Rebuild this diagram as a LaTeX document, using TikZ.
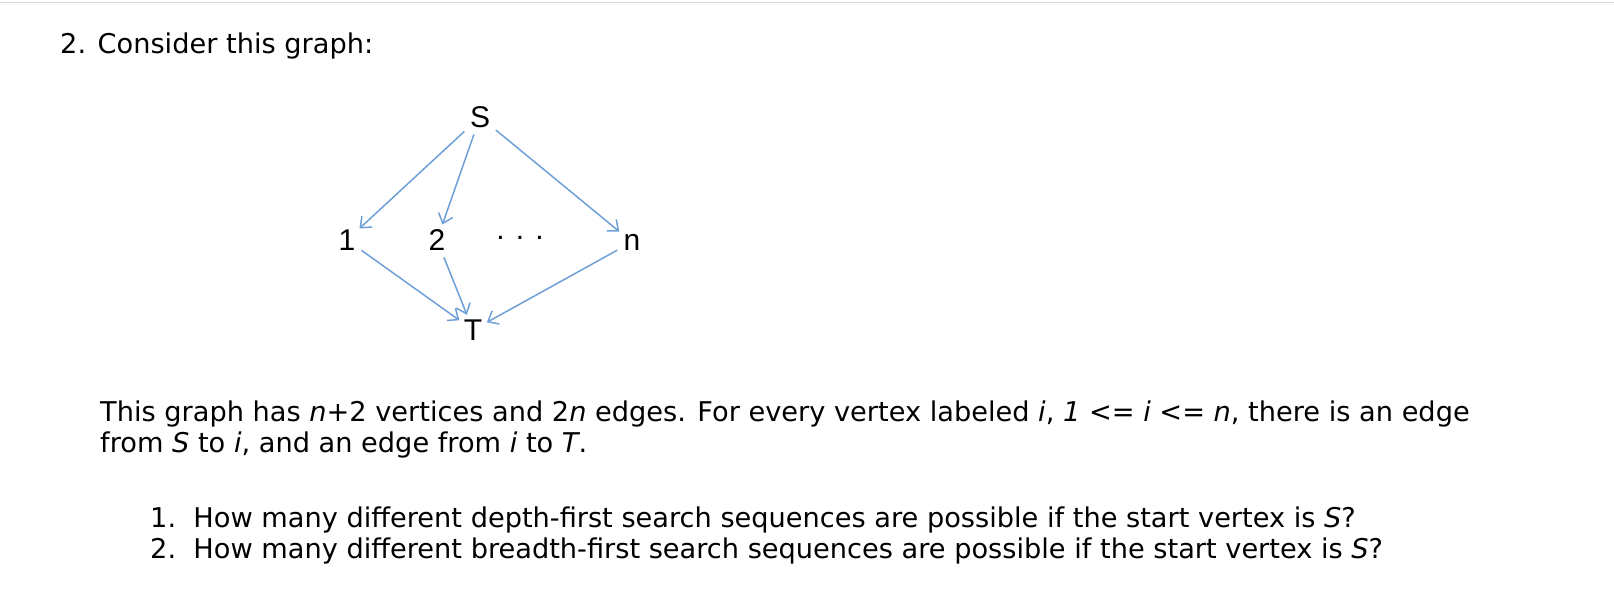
\documentclass[tikz,border=0pt]{standalone}
\usepackage{fontspec}
\setmainfont{DejaVu Sans}
\newfontfamily\grf{Liberation Sans}
\usetikzlibrary{arrows.meta}
\definecolor{edgeblue}{RGB}{110,160,215}
\tikzset{
  txt/.style={anchor=base west,inner sep=0pt,font=\fontsize{27.2}{31}\selectfont},
  vtx/.style={inner sep=1pt,font=\grf\fontsize{30}{34}\selectfont},
  edge/.style={draw=edgeblue,line width=1.5pt,-{Straight Barb[length=9pt,width=15pt]},shorten <=6pt,shorten >=4pt}
}
\begin{document}
\begin{tikzpicture}[x=1pt,y=-1pt]
\useasboundingbox (0,0) rectangle (1614,600);
\draw[black!15,line width=1pt] (0,2) -- (1614,2);
\node[txt] (h) at (60,53) {2. Consider this graph:};
\node[vtx] (S) at (480,117) {S};
\node[vtx] (v1) at (347,240) {1};
\node[vtx] (v2) at (437,240) {2};
\node[vtx] (dots) at (520,238) {. . .};
\node[vtx] (vn) at (632,242) {n};
\node[vtx] (T) at (473,330) {T};
\path[edge] (S) -- (v1);
\path[edge] (S) -- (v2);
\path[edge] (S) -- (vn);
\path[edge] (v1) -- (T);
\path[edge] (v2) -- (T);
\path[edge] (vn) -- (T);
\node[txt] (l1) at (100,421) {This graph has \textit{n}+2 vertices and 2\textit{n} edges. For every vertex labeled \textit{i}, \textit{1 <= i <= n}, there is an edge};
\node[txt] (l2) at (100,452) {from \textit{S} to \textit{i}, and an edge from \textit{i} to \textit{T}.};
\node[txt] (q1) at (150,527) {1.~~How many different depth-first search sequences are possible if the start vertex is \textit{S}?};
\node[txt] (q2) at (150,558) {2.~~How many different breadth-first search sequences are possible if the start vertex is \textit{S}?};
\end{tikzpicture}
\end{document}
